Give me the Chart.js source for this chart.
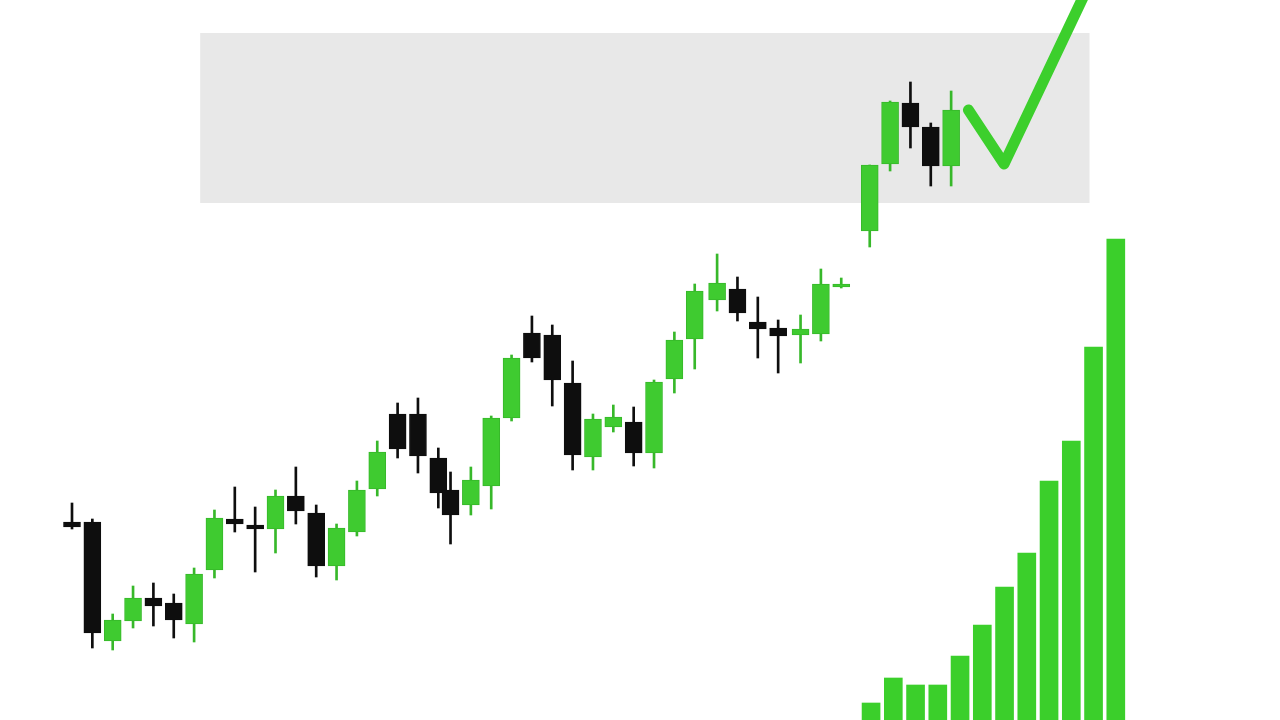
<!DOCTYPE html>
<html>
<head>
<meta charset="utf-8">
<script src="https://cdn.jsdelivr.net/npm/chart.js@4/dist/chart.umd.min.js"></script>
<style>
  html, body { margin: 0; padding: 0; background: #ffffff; }
  #wrap { width: 1280px; height: 720px; }
</style>
</head>
<body>
<div id="wrap"><canvas id="c" width="1280" height="720"></canvas></div>
<script>
// ---- data (price units) ----
const sessions = [0,1,2,3,4,5,6,7,8,9,10,11,12,13,14,15,16,17,18,
  18.6,19.6,20.6,21.6,22.6,23.6,24.6,25.6,26.6,27.6,28.6,29.6,30.6,31.7,32.7,33.7,34.7,35.8,36.8,37.8,
  39.2,40.2,41.2,42.2,43.2];
const opens  = [99,99,39.5,49.5,61,58.5,48,75,100.5,97.5,95.5,112,103.5,77,94,115.5,153,153,131,
  115,107.5,117,151,193.5,192.5,168.5,131.5,146.5,149,133.5,170.5,190.5,210,215.5,199,196,192.5,193,216.5,
  244.5,278,308.5,296.5,277];
const highs  = [108.5,100.5,53,67,68.5,63,76,105,116.5,106.5,115,126.5,107.5,98,119.5,139.5,158.5,161,136,
  124,126.5,152,182.5,202,197.5,179.5,153,157.5,156.5,170,194,218,233,221.5,211.5,200,202.5,225.5,221,
  277.5,309.5,319,298.5,314.5];
const lows   = [95.5,36,35,46,47,41,39,71,94,74,83.5,98,71.5,70,92,112,131,123.5,106,
  88,102.5,105.5,149.5,179,157,125,125,144,127,126,163.5,175.5,204.5,199.5,181,173.5,178.5,189.5,216,
  236.5,274.5,286,267,267];
const closes = [96.5,43.5,50,61,57,50,73,101,98,95.5,112,104.5,77,96,115,134,135.5,132,113.5,
  102.5,120,151,181,181,170,132.5,150.5,151.5,133.5,169,190,214.5,218.5,203.5,195.5,192,195.5,218,218,
  277.5,309,296.5,277,305];

const volumeBars = [0,1,2,3,4,5,6,7,8,9,10,11];
const volumes = [17,42,35,35,64,95,133,167,239,279,373,481];

// resistance zone (session / price units)
const zoneSessions = [6.3, 50.0];
const zonePrices = [258.5, 343.5];

// check mark path (session / price units)
const checkX = [44.05, 45.8, 49.9];
const checkY = [305, 278, 366];

// ---- styles ----
const UP = '#3fcb30';
const UP_EDGE = '#37b82a';
const DOWN = '#0e0e0e';

const isUp = opens.map((o, i) => closes[i] >= o);
const bodyData = sessions.map((s, i) => ({ x: s, y: [opens[i], closes[i]] }));
const wickData = sessions.map((s, i) => ({ x: s, y: [lows[i], highs[i]] }));
const volData = volumeBars.map((b, i) => ({ x: b, y: volumes[i] }));
const checkData = checkX.map((x, i) => ({ x: x, y: checkY[i] }));

const zonePlugin = {
  id: 'zone',
  beforeDatasetsDraw(chart) {
    const { ctx, scales } = chart;
    const x0 = scales.x.getPixelForValue(zoneSessions[0]);
    const x1 = scales.x.getPixelForValue(zoneSessions[1]);
    const y0 = scales.y.getPixelForValue(zonePrices[1]);
    const y1 = scales.y.getPixelForValue(zonePrices[0]);
    ctx.save();
    ctx.fillStyle = '#e8e8e8';
    ctx.fillRect(x0, y0, x1 - x0, y1 - y0);
    ctx.restore();
  }
};

new Chart(document.getElementById('c'), {
  type: 'bar',
  data: {
    datasets: [
      {
        type: 'line',
        label: 'check',
        data: checkData,
        xAxisID: 'x', yAxisID: 'y',
        borderColor: '#3ccf2c',
        borderWidth: 11,
        borderCapStyle: 'round',
        borderJoinStyle: 'round',
        pointRadius: 0,
        tension: 0,
        fill: false,
        order: 0
      },
      {
        label: 'body',
        data: bodyData,
        xAxisID: 'x', yAxisID: 'y',
        backgroundColor: isUp.map(u => u ? UP : DOWN),
        borderColor: isUp.map(u => u ? UP_EDGE : DOWN),
        borderWidth: 1,
        borderSkipped: false,
        barThickness: 17,
        grouped: false,
        order: 1
      },
      {
        label: 'wick',
        data: wickData,
        xAxisID: 'x', yAxisID: 'y',
        backgroundColor: isUp.map(u => u ? UP_EDGE : DOWN),
        borderWidth: 0,
        barThickness: 2,
        grouped: false,
        order: 2
      },
      {
        label: 'volume',
        data: volData,
        xAxisID: 'xv', yAxisID: 'yv',
        backgroundColor: '#3bcf2b',
        borderWidth: 0,
        barThickness: 18,
        grouped: false,
        order: 3
      }
    ]
  },
  options: {
    responsive: false,
    animation: false,
    events: [],
    layout: { padding: 0 },
    plugins: { legend: { display: false }, tooltip: { enabled: false }, title: { display: false } },
    scales: {
      x: { type: 'linear', display: false, offset: false, min: -3.538, max: 59.36 },
      y: { type: 'linear', display: false, min: 0, max: 360 },
      xv: { type: 'linear', display: false, offset: false, min: -39.15, max: 18.38 },
      yv: { type: 'linear', display: false, min: 0, max: 720 }
    }
  },
  plugins: [zonePlugin]
});
</script>
</body>
</html>
